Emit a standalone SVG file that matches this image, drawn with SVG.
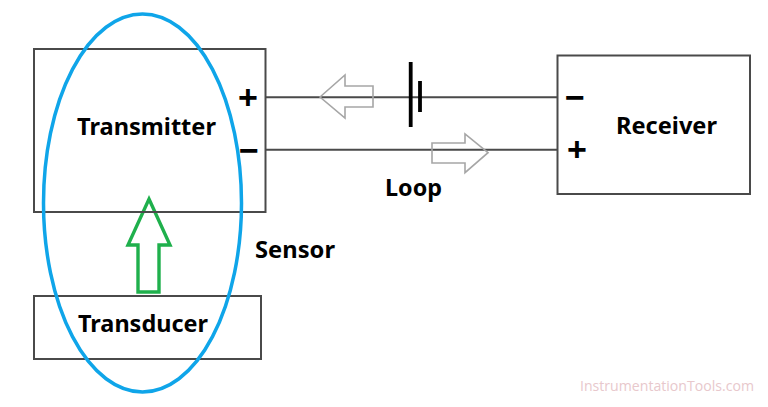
<svg xmlns="http://www.w3.org/2000/svg" width="768" height="407" viewBox="0 0 768 407">
<style>
.box{fill:none;stroke:#4a4a4a;stroke-width:2}
.wire{fill:none;stroke:#4a4a4a;stroke-width:2}
.flow{fill:none;stroke:#a6a6a6;stroke-width:1.6}
.lbl{font-family:"Noto Sans","Liberation Sans",sans-serif;font-weight:700;fill:#000;font-size:24px}
.sign{font-family:"Liberation Sans",sans-serif;font-weight:700;fill:#000;font-size:34px;text-anchor:middle}
</style>
<rect width="768" height="407" fill="#fff"/>
<g id="connectors">
<path class="wire" d="M266 97.300H557M266 149.700H557"/>
<path class="flow" d="M320 97L345 75V86H373V107H345V118Z"/>
<path class="flow" d="M488 152.700L465 134V143H432V163H465V172.700Z"/>
<path d="M149 199L170 245H159V292H138V245H128Z" fill="none" stroke="#1fb04c" stroke-width="3.400"/>
</g>
<g id="battery">
<path d="M410.700 62V127M420 81V112" fill="none" stroke="#000" stroke-width="3.800"/>
</g>
<g id="transmitter">
<rect class="box" x="34" y="49" width="231.500" height="163"/>
<text class="lbl" x="77" y="135" textLength="139" lengthAdjust="spacingAndGlyphs">Transmitter</text>
<text class="sign" x="248" y="109">+</text>
<text class="sign" x="249" y="162">−</text>
</g>
<g id="transducer">
<rect class="box" x="34" y="296" width="227" height="63"/>
<text class="lbl" x="78" y="332" textLength="130" lengthAdjust="spacingAndGlyphs">Transducer</text>
</g>
<g id="receiver">
<rect class="box" x="557.500" y="55.500" width="192.500" height="138.500"/>
<text class="lbl" x="616" y="134" textLength="101" lengthAdjust="spacingAndGlyphs">Receiver</text>
<text class="sign" x="575" y="109">−</text>
<text class="sign" x="577" y="161">+</text>
</g>
<g id="sensor">
<ellipse cx="142.500" cy="203" rx="99" ry="189" fill="none" stroke="#0fa5e9" stroke-width="3.500"/>
<text class="lbl" x="255" y="258" textLength="80" lengthAdjust="spacingAndGlyphs">Sensor</text>
</g>
<text class="lbl" x="385" y="196" textLength="57" lengthAdjust="spacingAndGlyphs">Loop</text>
<text x="580" y="391" font-family="'Open Sans','Liberation Sans',sans-serif" font-size="15" fill="#e8c8cc" textLength="174" lengthAdjust="spacingAndGlyphs">InstrumentationTools.com</text>
</svg>
